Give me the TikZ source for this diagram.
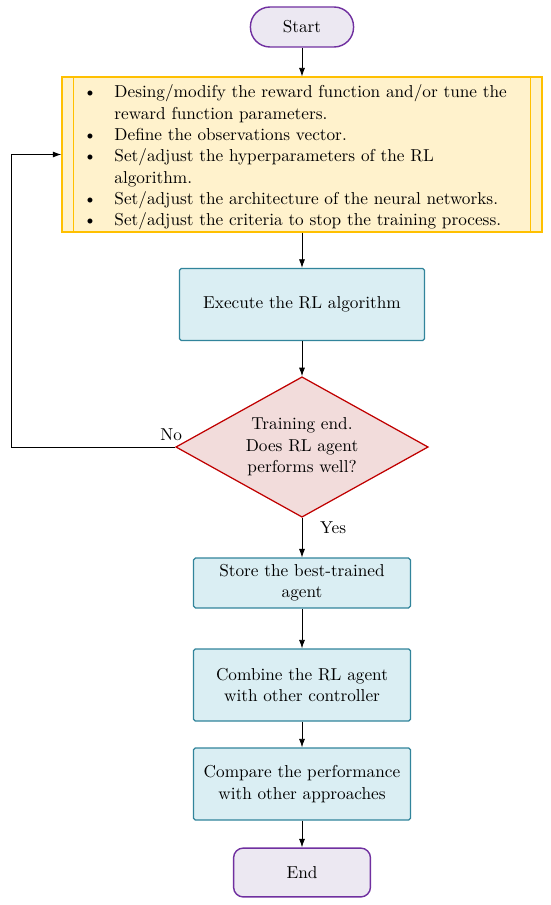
\documentclass[tikz,border=0pt]{standalone}
\usepackage{amsmath}
\usepackage{enumitem}
\usetikzlibrary{shapes.geometric,calc,arrows.meta}

\definecolor{termline}{HTML}{7030A0}
\definecolor{termfill}{HTML}{ECE8F2}
\definecolor{setline}{HTML}{FFC000}
\definecolor{setfill}{HTML}{FFF2CC}
\definecolor{procline}{HTML}{31849B}
\definecolor{procfill}{HTML}{DAEEF3}
\definecolor{askline}{HTML}{C00000}
\definecolor{askfill}{HTML}{F2DCDB}

\tikzset{
  terminal/.style={draw=termline,fill=termfill,line width=0.8pt,align=center},
  setupbox/.style={draw=setline,fill=setfill,line width=0.8pt,inner sep=0pt,minimum width=270pt,minimum height=87pt},
  procbox/.style={draw=procline,fill=procfill,line width=0.7pt,rounded corners=1pt,align=center,inner sep=2pt},
  askbox/.style={diamond,draw=askline,fill=askfill,line width=0.7pt,aspect=1.8,inner sep=2pt,align=center,minimum width=142pt,minimum height=79pt},
  flow/.style={-{Latex[length=4.8pt,width=3.4pt]},line width=0.45pt}
}

\begin{document}
\begin{tikzpicture}[x=0.5625pt,y=-0.5625pt,font=\fontsize{9.7}{12}\selectfont]
    \useasboundingbox (0,0) rectangle (550,905);
    % terminals and steps
    \node[terminal,rounded corners=11pt,minimum width=58pt,minimum height=22.5pt] (start) at (302,27) {Start};
    \node[setupbox] (setup) at (302,154.5) {\begin{minipage}{255pt}\raggedright
        \vspace*{3.4pt}
        \begin{itemize}[nosep,leftmargin=22pt,labelsep=10pt]
            \item Desing/modify the reward function and/or tune the reward function parameters.
            \item Define the observations vector.
            \item Set/adjust the hyperparameters of the RL\newline algorithm.
            \item Set/adjust the architecture of the neural networks.
            \item Set/adjust the criteria to stop the training process.
        \end{itemize}
        \end{minipage}};
    \draw[setline,line width=0.8pt] ($(setup.north west)+(12,0)$) -- ($(setup.south west)+(12,0)$);
    \draw[setline,line width=0.8pt] ($(setup.north east)+(-12,0)$) -- ($(setup.south east)+(-12,0)$);
    \node[procbox,minimum width=137.8pt,minimum height=40.5pt] (run) at (302,304.5) {Execute the RL algorithm};
    \node[askbox] (check) at (302,447) {Training end.\\Does RL agent\\performs well?};
    \node[procbox,minimum width=122pt,minimum height=28pt] (store) at (302,583) {Store the best-trained\\agent};
    \node[procbox,minimum width=122pt,minimum height=40.5pt] (combine) at (302,685) {Combine the RL agent\\with other controller};
    \node[procbox,minimum width=122pt,minimum height=40.5pt] (compare) at (302,784) {Compare the performance\\with other approaches};
    \node[terminal,rounded corners=5.5pt,minimum width=77pt,minimum height=27.5pt] (end) at (302,872.5) {End};
    % connectors
    \draw[flow] (start) -- (setup);
    \draw[flow] (setup) -- (run);
    \draw[flow] (run) -- (check);
    \draw[flow] (check) -- node[pos=0.25,right=10pt,inner sep=0pt] (yes) {Yes} (store);
    \draw[flow] (store) -- (combine);
    \draw[flow] (combine) -- (compare);
    \draw[flow] (compare) -- (end);
    \coordinate (back) at (11,154.5);
    \draw[flow] (check.west) -| (back) -- (setup.west);
    \node[anchor=south,inner sep=1pt] (no) at ($(check.west)+(-4,-4)$) {No};
\end{tikzpicture}
\end{document}
